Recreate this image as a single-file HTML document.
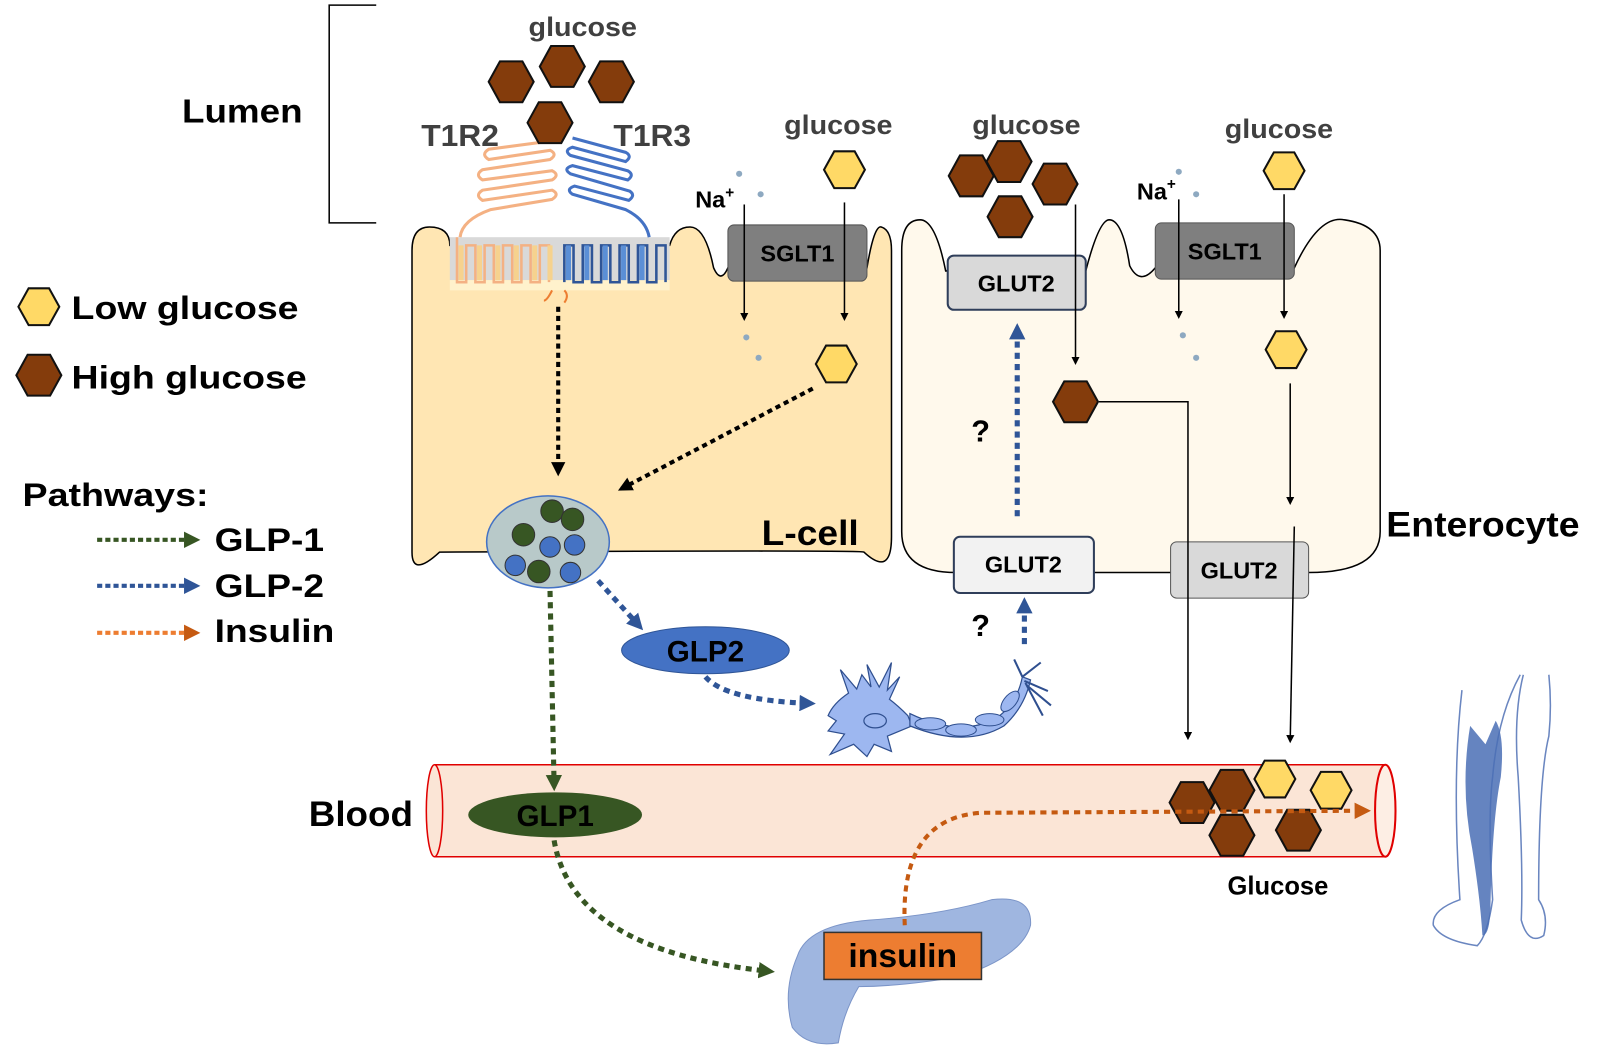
<!DOCTYPE html>
<html><head><meta charset="utf-8"><style>
html,body{margin:0;padding:0;background:#fff;}
svg{display:block}
text{font-family:"Liberation Sans",Arial,sans-serif;font-weight:bold;}
</style></head><body>
<svg width="1601" height="1051" viewBox="0 0 1566 1028" xmlns="http://www.w3.org/2000/svg">
<defs>
<marker id="ak" markerWidth="8" markerHeight="8" refX="6" refY="4" orient="auto" markerUnits="userSpaceOnUse" viewBox="0 0 8 8"><path d="M0,0L8,4L0,8z" fill="#000"/></marker>
<marker id="akb" markerWidth="14" markerHeight="14" refX="10" refY="7" orient="auto" markerUnits="userSpaceOnUse"><path d="M0,0L14,7L0,14z" fill="#000"/></marker>
<marker id="ab" markerWidth="16" markerHeight="16" refX="10" refY="8" orient="auto" markerUnits="userSpaceOnUse"><path d="M0,0L16,8L0,16z" fill="#2F5597"/></marker>
<marker id="ag" markerWidth="16" markerHeight="16" refX="10" refY="8" orient="auto" markerUnits="userSpaceOnUse"><path d="M0,0L16,8L0,16z" fill="#375623"/></marker>
<marker id="ao" markerWidth="16" markerHeight="16" refX="10" refY="8" orient="auto" markerUnits="userSpaceOnUse"><path d="M0,0L16,8L0,16z" fill="#C55A11"/></marker>
<g id="hb"><polygon points="-22,0 -11,-20 11,-20 22,0 11,20 -11,20" fill="#843C0C" stroke="#111" stroke-width="2"/></g>
<g id="hy"><polygon points="-20,0 -10,-18 10,-18 20,0 10,18 -10,18" fill="#FFD966" stroke="#111" stroke-width="2"/></g>
</defs>

<!-- bracket -->
<path d="M368,5 H322 V218 H368" fill="none" stroke="#000" stroke-width="1.5"/>
<text x="178" y="120" font-size="33" textLength="118" lengthAdjust="spacingAndGlyphs">Lumen</text>

<!-- L-cell -->
<path d="M403,540 V245 Q403,222 420,222 Q440,222 440,240 L655,240 Q660,222 675,222 Q690,222 698,262 Q705,278 712,262 L848,262 Q855,220 862,222 Q872,225 872,245 V525 Q872,565 845,540 Q840,538 430,540 Q403,565 403,540 Z" fill="#FFE6B3" stroke="#000" stroke-width="1.5"/>
<!-- Enterocyte -->
<path d="M882,520 V245 Q882,215 900,215 Q915,215 925,265 L1062,265 Q1075,215 1085,215 Q1098,215 1105,260 Q1115,280 1130,262 L1266,262 Q1290,210 1315,215 Q1350,220 1350,245 V520 Q1350,560 1280,560 L1070,560 L935,560 Q882,560 882,520 Z" fill="#FFF9EC" stroke="#000" stroke-width="1.5"/>

<!-- membrane band -->
<rect x="440" y="232" width="215" height="42" fill="#D9D9D9"/>
<rect x="440" y="274" width="215" height="10" fill="#FFF2CC"/>
<g fill="none">
<path d="M447,232 V276 h9 V240 h9 V276 h9 V240 h9 V276 h9 V240 h9 V276 h9 V240 h9 V276 h9 V240 h9 V276" stroke="#F4B183" stroke-width="2.5"/>
<g stroke="#F6D28E" stroke-width="5"><path d="M451,240V274 M469,240V274 M487,240V274 M505,240V274 M523,240V274 M538,240V274"/></g>
<path d="M552,276 V240 h9 V276 h9 V240 h9 V276 h9 V240 h9 V276 h9 V240 h9 V276 h9 V240 h9 V276 h9 V240 h9 V276" stroke="#2F5597" stroke-width="2.5"/>
<g stroke="#5B8FD6" stroke-width="5"><path d="M556,240V274 M574,240V274 M592,240V274 M610,240V274 M628,240V274"/></g>
<path d="M450,232 Q452,215 480,205 L540,195 Q548,190 540,186 L472,196 Q464,191 472,186 L540,176 Q548,171 540,167 L472,176 Q464,171 472,166 L538,156 Q546,151 538,147 L478,156 Q470,151 478,146 L538,138" stroke="#F4B183" stroke-width="3"/>
<path d="M635,232 Q632,215 612,205 L560,190 Q553,185 562,182 L615,196 Q622,191 616,187 L558,170 Q550,165 560,162 L614,176 Q621,171 614,167 L558,152 Q551,147 560,144 L612,158 Q619,153 612,149 L560,135" stroke="#4472C4" stroke-width="3"/>
<path d="M540,284 q-5,10 -8,10 M552,284 q5,5 0,12" stroke="#ED7D31" stroke-width="2"/>
</g>

<!-- lumen glucose -->
<text x="570" y="35" font-size="26" fill="#404040" text-anchor="middle" textLength="106" lengthAdjust="spacingAndGlyphs">glucose</text>
<use href="#hb" x="500" y="80"/><use href="#hb" x="550" y="65"/><use href="#hb" x="598" y="80"/><use href="#hb" x="538" y="120"/>
<text x="450" y="143" font-size="30" fill="#404040" text-anchor="middle" textLength="76" lengthAdjust="spacingAndGlyphs">T1R2</text>
<text x="638" y="143" font-size="30" fill="#404040" text-anchor="middle" textLength="76" lengthAdjust="spacingAndGlyphs">T1R3</text>

<!-- SGLT1 L-cell -->
<rect x="712" y="220" width="136" height="55" rx="6" fill="#7F7F7F" stroke="#555"/>
<text x="780" y="256" font-size="23" text-anchor="middle">SGLT1</text>
<text x="680" y="203" font-size="23">Na<tspan dy="-10" font-size="15">+</tspan></text>
<g fill="#8EA9C1"><circle cx="723" cy="170" r="3"/><circle cx="744" cy="190" r="3"/><circle cx="730" cy="330" r="3"/><circle cx="742" cy="350" r="3"/></g>
<text x="820" y="131" font-size="26" fill="#404040" text-anchor="middle" textLength="106" lengthAdjust="spacingAndGlyphs">glucose</text>
<use href="#hy" x="826" y="166"/>
<line x1="728" y1="200" x2="728" y2="312" stroke="#000" stroke-width="1.5" marker-end="url(#ak)"/>
<line x1="826" y1="198" x2="826" y2="312" stroke="#000" stroke-width="1.5" marker-end="url(#ak)"/>
<use href="#hy" x="818" y="356"/>
<line x1="546" y1="300" x2="546" y2="462" stroke="#000" stroke-width="4" stroke-dasharray="5,4" marker-end="url(#akb)"/>
<line x1="795" y1="380" x2="608" y2="478" stroke="#000" stroke-width="4" stroke-dasharray="5,4" marker-end="url(#akb)"/>
<text x="745" y="533" font-size="34" textLength="95" lengthAdjust="spacingAndGlyphs">L-cell</text>

<!-- vesicle -->
<ellipse cx="536" cy="530" rx="60" ry="45" fill="#B8C9C9" stroke="#4472C4" stroke-width="1.5"/>
<g stroke="#333" stroke-width="1"><circle cx="540" cy="500" r="11" fill="#375623"/><circle cx="560" cy="508" r="11" fill="#375623"/><circle cx="512" cy="523" r="11" fill="#375623"/><circle cx="527" cy="559" r="11" fill="#375623"/>
<circle cx="538" cy="535" r="10" fill="#4472C4"/><circle cx="562" cy="533" r="10" fill="#4472C4"/><circle cx="504" cy="553" r="10" fill="#4472C4"/><circle cx="558" cy="560" r="10" fill="#4472C4"/></g>

<!-- GLP2 -->
<line x1="585" y1="568" x2="625" y2="612" stroke="#2F5597" stroke-width="5" stroke-dasharray="6,5" marker-end="url(#ab)"/>
<ellipse cx="690" cy="636" rx="82" ry="23" fill="#4472C4" stroke="#2F5597"/>
<text x="690" y="647" font-size="29" text-anchor="middle">GLP2</text>
<path d="M690,662 Q710,685 792,688" fill="none" stroke="#2F5597" stroke-width="5" stroke-dasharray="6,5" marker-end="url(#ab)"/>

<!-- neuron -->
<g stroke="#2F4F8F" stroke-width="1.2" fill="#9DB7F0">
<path d="M848,650 L852,672 L843,660 L838,674 L822,655 L830,678 Q815,688 810,700 L818,705 L810,715 L826,718 L812,738 L835,728 L848,740 L855,728 L872,735 L868,720 Q880,715 892,710 L888,700 Q878,690 870,684 L880,662 L868,675 L872,648 L860,672 Z"/>
<ellipse cx="856" cy="705" rx="11" ry="7" fill="#9DB7F0"/>
<path d="M890,698 Q940,722 975,702 Q995,688 1000,662 L1008,665 Q1002,692 982,710 Q945,732 890,710 Z"/>
<path d="M1000,662 L992,645 M1000,662 L1018,648 M1002,666 L1025,676 M1004,670 L1028,690 M1003,668 L1020,700" fill="none" stroke="#2F4F8F" stroke-width="2"/>
</g>
<g fill="#9DB7F0" stroke="#2F4F8F" stroke-width="1"><ellipse cx="910" cy="708" rx="15" ry="6"/><ellipse cx="940" cy="714" rx="15" ry="6"/><ellipse cx="968" cy="704" rx="14" ry="6"/><ellipse cx="988" cy="686" rx="12" ry="6" transform="rotate(-50 988 686)"/></g>
<line x1="1002" y1="630" x2="1002" y2="590" stroke="#2F5597" stroke-width="5" stroke-dasharray="6,5" marker-end="url(#ab)"/>
<text x="950" y="622" font-size="30">?</text>
<line x1="995" y1="505" x2="995" y2="322" stroke="#2F5597" stroke-width="5" stroke-dasharray="6,5" marker-end="url(#ab)"/>
<text x="950" y="432" font-size="30">?</text>

<!-- enterocyte transporters -->
<rect x="927" y="250" width="135" height="53" rx="6" fill="#D9D9D9" stroke="#2F3E5A" stroke-width="2"/>
<text x="994" y="285" font-size="23" text-anchor="middle">GLUT2</text>
<rect x="933" y="525" width="137" height="55" rx="6" fill="#F2F2F2" stroke="#2F3E5A" stroke-width="2"/>
<text x="1001" y="560" font-size="23" text-anchor="middle">GLUT2</text>
<rect x="1145" y="530" width="135" height="55" rx="6" fill="#D9D9D9" stroke="#555"/>
<text x="1212" y="566" font-size="23" text-anchor="middle">GLUT2</text>
<rect x="1130" y="218" width="136" height="55" rx="6" fill="#7F7F7F" stroke="#555"/>
<text x="1198" y="254" font-size="23" text-anchor="middle">SGLT1</text>

<text x="1004" y="131" font-size="26" fill="#404040" text-anchor="middle" textLength="106" lengthAdjust="spacingAndGlyphs">glucose</text>
<use href="#hb" x="950" y="172"/><use href="#hb" x="987" y="158"/><use href="#hb" x="1032" y="180"/><use href="#hb" x="988" y="212"/>
<line x1="1052" y1="200" x2="1052" y2="355" stroke="#000" stroke-width="1.5" marker-end="url(#ak)"/>
<use href="#hb" x="1052" y="393"/>
<path d="M1075,393 H1162 V722" fill="none" stroke="#000" stroke-width="1.5" marker-end="url(#ak)"/>
<text x="1112" y="195" font-size="23">Na<tspan dy="-10" font-size="15">+</tspan></text>
<g fill="#8EA9C1"><circle cx="1153" cy="168" r="3"/><circle cx="1170" cy="190" r="3"/><circle cx="1157" cy="328" r="3"/><circle cx="1170" cy="350" r="3"/></g>
<line x1="1153" y1="195" x2="1153" y2="310" stroke="#000" stroke-width="1.5" marker-end="url(#ak)"/>
<text x="1251" y="135" font-size="26" fill="#404040" text-anchor="middle" textLength="106" lengthAdjust="spacingAndGlyphs">glucose</text>
<use href="#hy" x="1256" y="167"/>
<line x1="1256" y1="190" x2="1256" y2="310" stroke="#000" stroke-width="1.5" marker-end="url(#ak)"/>
<use href="#hy" x="1258" y="342"/>
<line x1="1262" y1="375" x2="1262" y2="492" stroke="#000" stroke-width="1.5" marker-end="url(#ak)"/>
<line x1="1266" y1="515" x2="1262" y2="725" stroke="#000" stroke-width="1.5" marker-end="url(#ak)"/>
<text x="1356" y="525" font-size="34" textLength="189" lengthAdjust="spacingAndGlyphs">Enterocyte</text>

<!-- blood -->
<rect x="425" y="748" width="930" height="90" fill="#FBE5D6"/>
<path d="M425,748 H1355 M425,838 H1355" stroke="#E00000" stroke-width="1.5"/>
<ellipse cx="425" cy="793" rx="8" ry="45" fill="#FBE5D6" stroke="#E00000" stroke-width="1.5"/>
<ellipse cx="1355" cy="793" rx="10" ry="45" fill="#FDEEE4" stroke="#E00000" stroke-width="2"/>
<text x="302" y="808" font-size="34" textLength="102" lengthAdjust="spacingAndGlyphs">Blood</text>
<line x1="538" y1="578" x2="542" y2="768" stroke="#375623" stroke-width="5" stroke-dasharray="6,5" marker-end="url(#ag)"/>
<ellipse cx="543" cy="797" rx="85" ry="22" fill="#375623"/>
<text x="543" y="808" font-size="29" text-anchor="middle">GLP1</text>
<path d="M542,822 Q560,930 752,950" fill="none" stroke="#375623" stroke-width="5" stroke-dasharray="6,5" marker-end="url(#ag)"/>

<!-- pancreas -->
<path d="M780,935 Q790,905 850,900 Q920,895 970,880 Q1010,875 1008,905 Q1000,935 940,955 Q880,965 840,965 Q825,990 820,1020 Q790,1025 775,1005 Q765,970 780,935 Z" fill="#9FB6E0" stroke="#7C95C8"/>
<use href="#hb" x="1166" y="785"/><use href="#hb" x="1205" y="773"/><use href="#hb" x="1270" y="812"/><use href="#hb" x="1205" y="817"/>
<use href="#hy" x="1247" y="762"/><use href="#hy" x="1302" y="773"/>
<path d="M885,905 Q880,800 960,795 L1335,793" fill="none" stroke="#C55A11" stroke-width="4" stroke-dasharray="6,5" marker-end="url(#ao)"/>
<rect x="806" y="912" width="154" height="46" fill="#ED7D31" stroke="#333" stroke-width="1.5"/>
<text x="883" y="946" font-size="33" text-anchor="middle">insulin</text>
<text x="1250" y="875" font-size="25" text-anchor="middle">Glucose</text>

<!-- legs -->
<g fill="none" stroke="#6A86C0" stroke-width="1.5">
<path d="M1430,675 Q1420,760 1428,880 Q1400,890 1402,905 Q1410,920 1445,925 Q1455,915 1460,880 Q1455,800 1460,760 Q1465,700 1487,660"/>
<path d="M1490,660 Q1480,700 1485,760 Q1490,850 1488,900 Q1495,925 1510,915 Q1515,895 1505,880 Q1505,760 1515,720 Q1518,690 1515,660"/>
</g>
<path d="M1438,710 Q1428,770 1440,830 Q1448,880 1450,915 Q1458,915 1458,880 Q1460,800 1468,760 Q1472,720 1463,705 L1453,728 Z" fill="#4A6FB5" opacity="0.85"/>

<!-- legend -->
<use href="#hy" x="38" y="300"/><text x="70" y="312" font-size="32" textLength="222" lengthAdjust="spacingAndGlyphs">Low glucose</text>
<use href="#hb" x="38" y="367"/><text x="70" y="380" font-size="32" textLength="230" lengthAdjust="spacingAndGlyphs">High glucose</text>
<text x="22" y="495" font-size="32" textLength="182" lengthAdjust="spacingAndGlyphs">Pathways:</text>
<line x1="95" y1="528" x2="190" y2="528" stroke="#375623" stroke-width="4" stroke-dasharray="5,3" marker-end="url(#ag)"/>
<text x="210" y="539" font-size="32" textLength="107" lengthAdjust="spacingAndGlyphs">GLP-1</text>
<line x1="95" y1="573" x2="190" y2="573" stroke="#2F5597" stroke-width="4" stroke-dasharray="5,3" marker-end="url(#ab)"/>
<text x="210" y="584" font-size="32" textLength="107" lengthAdjust="spacingAndGlyphs">GLP-2</text>
<line x1="95" y1="619" x2="190" y2="619" stroke="#ED7D31" stroke-width="4" stroke-dasharray="5,3" marker-end="url(#ao)"/>
<text x="210" y="628" font-size="32" textLength="117" lengthAdjust="spacingAndGlyphs">Insulin</text>
</svg>
</body></html>
